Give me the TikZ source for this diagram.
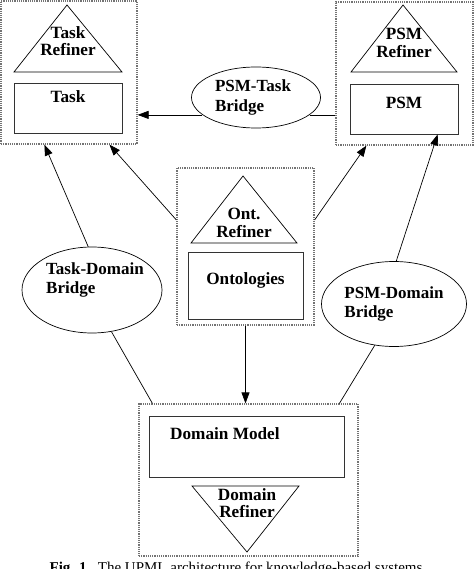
\documentclass[tikz,border=0pt]{standalone}
\usepackage{fontspec}
\setmainfont{Liberation Serif}
\usetikzlibrary{arrows.meta,calc,shapes.geometric}
\begin{document}
\begin{tikzpicture}[x=1pt,y=-1pt,
 outer/.style={draw=black!55, densely dotted, line width=1.2pt, inner sep=0pt},
 inbox/.style={draw=black!80, line width=0.7pt, inner sep=0pt},
 bridge/.style={ellipse, draw, line width=0.7pt, inner sep=0pt},
 lbl/.style={font=\bfseries\fontsize{17.2}{17.5}\selectfont, align=center, inner sep=0pt},
 blbl/.style={font=\bfseries\fontsize{17}{19.5}\selectfont, align=left, inner sep=0pt},
 conn/.style={line width=0.7pt},
 arr/.style={conn, -{Triangle[length=11pt,width=8pt]}},
 tri/.style={draw, line width=0.7pt, line join=miter}]
\clip (0,0) rectangle (474,569);
% outer dotted boxes
\node[outer, minimum width=136pt, minimum height=143pt] (taskouter) at (69,72.5) {};
\node[outer, minimum width=137pt, minimum height=143pt] (psmouter) at (404.5,73.5) {};
\node[outer, minimum width=137pt, minimum height=157pt] (ontouter) at (245.5,246.5) {};
\node[outer, minimum width=219pt, minimum height=152pt] (domouter) at (248.5,480) {};
% inner boxes
\node[inbox, minimum width=108pt, minimum height=50pt] (taskrect) at (68,108) {};
\node[inbox, minimum width=108pt, minimum height=50pt] (psmrect) at (404,109) {};
\node[inbox, minimum width=115pt, minimum height=67pt] (ontrect) at (245.5,285.5) {};
\node[inbox, minimum width=195pt, minimum height=61pt] (domrect) at (246.5,446.5) {};
% triangles
\draw[tri] (14,72) -- (122,72) -- (67,5) -- cycle;
\draw[tri] (351,72) -- (457,72) -- (403,5) -- cycle;
\draw[tri] (191,243) -- (297,243) -- (243,176) -- cycle;
\draw[tri] (192,486) -- (299,486) -- (247,552) -- cycle;
% labels
\node[lbl] (tasktri) at (68,41) {Task\\Refiner};
\node[lbl] (tasktxt) at (68,97) {Task};
\node[lbl] (psmtri) at (404,43) {PSM\\Refiner};
\node[lbl] (psmtxt) at (404,103) {PSM};
\node[lbl] (onttri) at (244,223) {Ont.\\Refiner};
\node[lbl] (onttxt) at (245.5,280) {Ontologies};
\node[lbl] (domtri) at (247,503) {Domain\\Refiner};
\node[lbl, anchor=west] (domtxt) at (170,434) {Domain Model};
% bridges
\node[bridge, minimum width=129pt, minimum height=61pt] (ptb) at (256,97.5) {};
\node[bridge, minimum width=140pt, minimum height=86pt] (tdb) at (92,290) {};
\node[bridge, minimum width=145pt, minimum height=85pt] (pdb) at (394,304) {};
\node[blbl] (ptbtxt) at (253,97.5) {PSM-Task\\Bridge};
\node[blbl] (tdbtxt) at (95,280) {Task-Domain\\Bridge};
\node[blbl] (pdbtxt) at (394,304) {PSM-Domain\\Bridge};
% connectors
\draw[arr] (ptb.198) -- (ptb.198 -| taskouter.east);
\draw[conn] (ptb.-18) -- (ptb.-18 -| psmouter.west);
\draw[arr] (tdb.95) -- ([xshift=44pt]taskouter.south west);
\draw[arr] ([yshift=26.5pt]ontouter.west) -- ([xshift=109pt]taskouter.south west);
\draw[arr] ([yshift=26.5pt]ontouter.east) -- ([xshift=31pt]psmouter.south west);
\draw[arr] (pdb.87) -- ([xshift=88pt]psmrect.south west);
\draw[conn] (pdb.-115) -- ([xshift=201pt]domouter.north west);
\draw[conn] (tdb.-65) -- ([xshift=14pt]domouter.north west);
\draw[arr] (ontouter.south) -- (ontouter.south |- domouter.north);
% caption
\node[anchor=base, inner sep=0pt, font=\fontsize{15}{17}\selectfont] (cap) at (236,572) {\textbf{Fig. 1.}\enspace The UPML architecture for knowledge-based systems};
\end{tikzpicture}
\end{document}
